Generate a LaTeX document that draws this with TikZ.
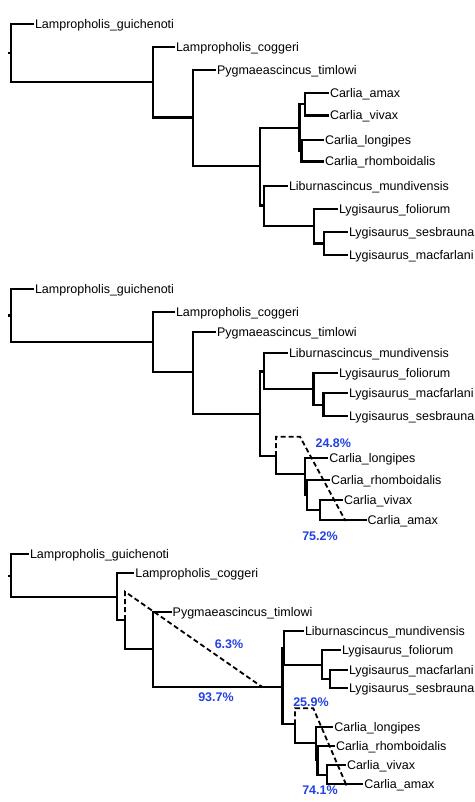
\documentclass[tikz,border=0pt]{standalone}
\usepackage{fontspec}
\setmainfont{Liberation Sans}
\definecolor{pctblue}{RGB}{35,65,225}
\begin{document}
\begin{tikzpicture}[x=1pt,y=-1pt,
  br/.style={line width=2.1pt},
  alt/.style={line width=1.8pt,dash pattern=on 5pt off 3pt},
  lab/.style={font=\fontsize{12.5}{14}\selectfont, anchor=base west, inner sep=0pt, xshift=0.8pt, yshift=-4.4pt},
  pct/.style={font=\fontsize{12.5}{14}\selectfont\bfseries, text=pctblue, inner sep=0pt},
  dotc/.style={circle, fill=black, inner sep=0pt, minimum size=3pt}]
\useasboundingbox (0,0) rectangle (474,802);

% ---------------- Tree 1 ----------------
\coordinate (t1rt) at (7.5,53);
\coordinate (t1R) at (10.7,53);
\coordinate (t1g) at (34,24);
\coordinate (t1A) at (153,82);
\coordinate (t1c) at (175,47);
\coordinate (t1B) at (193,117.5);
\coordinate (t1p) at (216,70);
\coordinate (t1C) at (260,166);
\coordinate (t1D) at (299.5,128);
\coordinate (t1E) at (305,104.3);
\coordinate (t1am) at (329,93.3);
\coordinate (t1vi) at (329,115.5);
\coordinate (t1F) at (301.5,151);
\coordinate (t1lo) at (324,140);
\coordinate (t1rh) at (324,161.5);
\coordinate (t1G) at (264,205.5);
\coordinate (t1li) at (288,186);
\coordinate (t1H) at (314,226);
\coordinate (t1fo) at (338,209);
\coordinate (t1I) at (324,243.5);
\coordinate (t1se) at (348,232);
\coordinate (t1ma) at (348,255);

\draw[br] (t1rt) -- (t1R)
  (t1R) |- (t1g) (t1R) |- (t1A)
  (t1A) |- (t1c) (t1A) |- (t1B)
  (t1B) |- (t1p) (t1B) |- (t1C)
  (t1C) |- (t1D) (t1C) |- (t1G)
  (t1D) |- (t1E) (t1D) |- (t1F)
  (t1E) |- (t1am) (t1E) |- (t1vi)
  (t1F) |- (t1lo) (t1F) |- (t1rh)
  (t1G) |- (t1li) (t1G) |- (t1H)
  (t1H) |- (t1fo) (t1H) |- (t1I)
  (t1I) |- (t1se) (t1I) |- (t1ma);

\node[lab] (n1g) at (t1g) {Lampropholis\_guichenoti};
\node[lab] (n1c) at (t1c) {Lampropholis\_coggeri};
\node[lab] (n1p) at (t1p) {Pygmaeascincus\_timlowi};
\node[lab] (n1am) at (t1am) {Carlia\_amax};
\node[lab] (n1vi) at (t1vi) {Carlia\_vivax};
\node[lab] (n1lo) at (t1lo) {Carlia\_longipes};
\node[lab] (n1rh) at (t1rh) {Carlia\_rhomboidalis};
\node[lab] (n1li) at (t1li) {Liburnascincus\_mundivensis};
\node[lab] (n1fo) at (t1fo) {Lygisaurus\_foliorum};
\node[lab] (n1se) at (t1se) {Lygisaurus\_sesbrauna};
\node[lab] (n1ma) at (t1ma) {Lygisaurus\_macfarlani};

% ---------------- Tree 2 ----------------
\coordinate (t2rt) at (7.5,315.5);
\coordinate (t2R) at (10.7,315.5);
\coordinate (t2g) at (34,289.3);
\coordinate (t2A) at (153.3,341.7);
\coordinate (t2c) at (175,311.7);
\coordinate (t2B) at (193.3,372.3);
\coordinate (t2p) at (216,331.7);
\coordinate (t2C) at (260,414);
\coordinate (t2G) at (264,371.5);
\coordinate (t2li) at (288,353.3);
\coordinate (t2H) at (313.5,389.3);
\coordinate (t2fo) at (338,373.3);
\coordinate (t2I) at (323.5,404.7);
\coordinate (t2ma) at (348,393.3);
\coordinate (t2se) at (348,416);
\coordinate (t2J) at (276,456);
\coordinate (t2K) at (305,474.3);
\coordinate (t2lo) at (328.3,458.3);
\coordinate (t2F) at (307,495);
\coordinate (t2rh) at (330,480);
\coordinate (t2L) at (320,510);
\coordinate (t2vi) at (343,500);
\coordinate (t2am) at (366.7,520);
\coordinate (t2dv) at (276,436.7);
\coordinate (t2dh) at (300,436.7);
\coordinate (t2de) at (345,520);

\draw[br] (t2rt) -- (t2R)
  (t2R) |- (t2g) (t2R) |- (t2A)
  (t2A) |- (t2c) (t2A) |- (t2B)
  (t2B) |- (t2p) (t2B) |- (t2C)
  (t2C) |- (t2G) (t2C) |- (t2J)
  (t2G) |- (t2li) (t2G) |- (t2H)
  (t2H) |- (t2fo) (t2H) |- (t2I)
  (t2I) |- (t2ma) (t2I) |- (t2se)
  (t2J) |- (t2K)
  (t2K) |- (t2lo) (t2K) |- (t2F)
  (t2F) |- (t2rh) (t2F) |- (t2L)
  (t2L) |- (t2vi) (t2L) |- (t2am);
\draw[alt] (t2J) -- (t2dv) -- (t2dh) -- (t2de);
\node[dotc] (t2dot) at (t2de) {};

\node[lab] (n2g) at (t2g) {Lampropholis\_guichenoti};
\node[lab] (n2c) at (t2c) {Lampropholis\_coggeri};
\node[lab] (n2p) at (t2p) {Pygmaeascincus\_timlowi};
\node[lab] (n2li) at (t2li) {Liburnascincus\_mundivensis};
\node[lab] (n2fo) at (t2fo) {Lygisaurus\_foliorum};
\node[lab] (n2ma) at (t2ma) {Lygisaurus\_macfarlani};
\node[lab] (n2se) at (t2se) {Lygisaurus\_sesbrauna};
\node[lab] (n2lo) at (t2lo) {Carlia\_longipes};
\node[lab] (n2rh) at (t2rh) {Carlia\_rhomboidalis};
\node[lab] (n2vi) at (t2vi) {Carlia\_vivax};
\node[lab] (n2am) at (t2am) {Carlia\_amax};
\node[pct] (p2a) at (333.3,443.3) {24.8\%};
\node[pct] (p2b) at (320,536) {75.2\%};

% ---------------- Tree 3 ----------------
\coordinate (t3rt) at (7.5,575.7);
\coordinate (t3R) at (10.7,575.7);
\coordinate (t3g) at (29,554);
\coordinate (t3A) at (116.7,597.3);
\coordinate (t3c) at (134.3,573.3);
\coordinate (t3B) at (125,620);
\coordinate (t3C) at (153.3,649.3);
\coordinate (t3p) at (171.7,611.7);
\coordinate (t3D) at (282.5,686.7);
\coordinate (t3G) at (284,647.8);
\coordinate (t3li) at (304,630.7);
\coordinate (t3H) at (322,665);
\coordinate (t3fo) at (341,650);
\coordinate (t3I) at (330,679.2);
\coordinate (t3ma) at (348,670);
\coordinate (t3se) at (348,688.3);
\coordinate (t3J) at (295,724.3);
\coordinate (t3K) at (316,743.3);
\coordinate (t3lo) at (333.3,727.3);
\coordinate (t3F) at (317.5,760);
\coordinate (t3rh) at (335,745.7);
\coordinate (t3L) at (327.3,774.7);
\coordinate (t3vi) at (346,765);
\coordinate (t3am) at (363.3,784.3);
\coordinate (t3bv) at (125,591.7);
\coordinate (t3be) at (261.7,686.7);
\coordinate (t3dv) at (295,708.3);
\coordinate (t3dh) at (313.3,708.3);
\coordinate (t3de) at (346,784.3);

\draw[br] (t3rt) -- (t3R)
  (t3R) |- (t3g) (t3R) |- (t3A)
  (t3A) |- (t3c) (t3A) |- (t3B)
  (t3B) |- (t3C)
  (t3C) |- (t3p) (t3C) |- (t3D)
  (t3D) |- (t3G) (t3D) |- (t3J)
  (t3G) |- (t3li) (t3G) |- (t3H)
  (t3H) |- (t3fo) (t3H) |- (t3I)
  (t3I) |- (t3ma) (t3I) |- (t3se)
  (t3J) |- (t3K)
  (t3K) |- (t3lo) (t3K) |- (t3F)
  (t3F) |- (t3rh) (t3F) |- (t3L)
  (t3L) |- (t3vi) (t3L) |- (t3am);
\draw[alt] (t3B) -- (t3bv) -- (t3be);
\draw[alt] (t3J) -- (t3dv) -- (t3dh) -- (t3de);
\node[dotc] (t3dot1) at (t3be) {};
\node[dotc] (t3dot2) at (t3de) {};

\node[lab] (n3g) at (t3g) {Lampropholis\_guichenoti};
\node[lab] (n3c) at (t3c) {Lampropholis\_coggeri};
\node[lab] (n3p) at (t3p) {Pygmaeascincus\_timlowi};
\node[lab] (n3li) at (t3li) {Liburnascincus\_mundivensis};
\node[lab] (n3fo) at (t3fo) {Lygisaurus\_foliorum};
\node[lab] (n3ma) at (t3ma) {Lygisaurus\_macfarlani};
\node[lab] (n3se) at (t3se) {Lygisaurus\_sesbrauna};
\node[lab] (n3lo) at (t3lo) {Carlia\_longipes};
\node[lab] (n3rh) at (t3rh) {Carlia\_rhomboidalis};
\node[lab] (n3vi) at (t3vi) {Carlia\_vivax};
\node[lab] (n3am) at (t3am) {Carlia\_amax};
\node[pct] (p3a) at (229,644) {6.3\%};
\node[pct] (p3b) at (216,697.3) {93.7\%};
\node[pct] (p3c) at (311,702.3) {25.9\%};
\node[pct] (p3d) at (320,790) {74.1\%};
\end{tikzpicture}
\end{document}
